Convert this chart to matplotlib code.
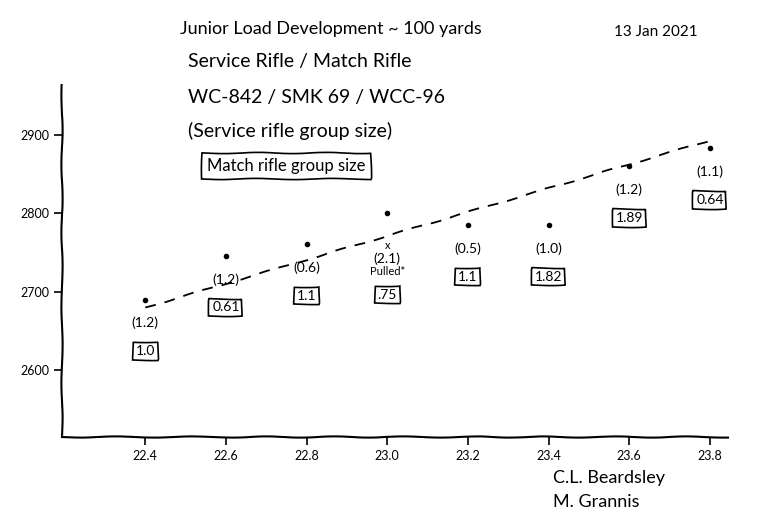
import matplotlib
matplotlib.use("Agg")
import matplotlib.pyplot as plt

charge = [22.4, 22.6, 22.8, 23.0, 23.2, 23.4, 23.6, 23.8]
velocity = [2690, 2746, 2761, 2801, 2785, 2785, 2860, 2883]
service_group = ["(1.2)", "(1.2)", "(0.6)", "(2.1)", "(0.5)", "(1.0)", "(1.2)", "(1.1)"]
match_group = ["1.0", "0.61", "1.1", ".75", "1.1", "1.82", "1.89", "0.64"]
trend_x = [22.4, 23.8]
trend_y = [2680, 2893]
yticks = [2600, 2700, 2800, 2900]

plt.xkcd(scale=0.6, length=80, randomness=2)
plt.rcParams['font.family'] = ['Lato', 'DejaVu Sans']
plt.rcParams['path.effects'] = []

fig = plt.figure(figsize=(7.68, 5.17), dpi=100)
ax = fig.add_axes([0.081, 0.155, 0.867, 0.681])
ax.set_xlim(22.194, 23.845)
ax.set_ylim(2515, 2964)
for s in ['top', 'right']:
    ax.spines[s].set_visible(False)
ax.set_xticks(charge)
ax.set_xticklabels([f"{c:.1f}" for c in charge], fontsize=9)
ax.set_yticks(yticks)
ax.set_yticklabels([str(v) for v in yticks], fontsize=9)
ax.tick_params(length=6, width=1.2)

ax.plot(charge, velocity, 'o', color='black', markersize=3)
ax.plot(trend_x, trend_y, color='black', linestyle=(0, (6, 5)), linewidth=1.3)

for x, y, sg, mg in zip(charge, velocity, service_group, match_group):
    pulled = (x == 23.0)
    ax.annotate(sg, (x, y), xytext=(0, -36 if pulled else -20), textcoords='offset points',
                ha='center', fontsize=10)
    ax.annotate(mg, (x, y), xytext=(0, -62 if pulled else -40), textcoords='offset points',
                ha='center', fontsize=10,
                bbox=dict(boxstyle='square,pad=0.2', fc='white', ec='black', lw=1.2))
ax.annotate("x", (23.0, 2801), xytext=(0, -26), textcoords='offset points', ha='center', fontsize=8)
ax.annotate("Pulled*", (23.0, 2801), xytext=(0, -45), textcoords='offset points', ha='center', fontsize=8)

fig.text(0.235, 0.935, "Junior Load Development ~ 100 yards", fontsize=13)
fig.text(0.80, 0.93, "13 Jan 2021", fontsize=11)
fig.text(0.245, 0.87, "Service Rifle / Match Rifle", fontsize=14)
fig.text(0.245, 0.80, "WC-842 / SMK 69 / WCC-96", fontsize=14)
fig.text(0.245, 0.735, "(Service rifle group size)", fontsize=14)
fig.text(0.27, 0.67, "Match rifle group size", fontsize=12,
         bbox=dict(boxstyle='square,pad=0.3', fc='white', ec='black', lw=1.2))
fig.text(0.72, 0.065, "C.L. Beardsley", fontsize=13)
fig.text(0.72, 0.02, "M. Grannis", fontsize=13)

fig.savefig("out.png", dpi=100)
